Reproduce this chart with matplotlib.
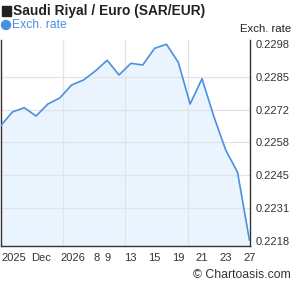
import matplotlib
matplotlib.use("Agg")
import matplotlib.pyplot as plt
from matplotlib.patches import Rectangle, Ellipse
import numpy as np

plt.rcParams['font.family'] = ['Liberation Sans', 'DejaVu Sans']

# exchange rate, SAR/EUR
rates = [0.226485, 0.227058, 0.227234, 0.226894, 0.227385, 0.227631,
         0.228163, 0.228367, 0.228735, 0.229173, 0.228572, 0.229050,
         0.228981, 0.229664, 0.229830, 0.229091, 0.227385, 0.228420,
         0.226874, 0.225503, 0.224591, 0.221821]

xtick_pos = [1.15, 3.4, 6.07, 8.09, 9.0, 10.95, 12.97, 15.0, 17.0, 19.04, 20.98]
xtick_labels = ['2025', 'Dec', '2026', '8', '9', '13', '15', '19', '21', '23', '27']

ytick_vals = [0.22178, 0.223123, 0.224467, 0.22581, 0.227153, 0.228497, 0.22984]
ytick_labels = ['0.2218', '0.2231', '0.2245', '0.2258', '0.2272', '0.2285', '0.2298']

line_col = '#4a90e2'
fill_col = '#eaf4fe'
text_col = '#333333'

W, H = 295, 288
fig = plt.figure(figsize=(W / 100, H / 100), dpi=100)
ax = fig.add_axes([0.5 / W, (H - 246) / H, 249.5 / W, 206 / H])

x = np.arange(len(rates))
ax.fill_between(x, rates, 0.2, color=fill_col, lw=0, zorder=1)
ax.plot(x, rates, color=line_col, lw=1.2, zorder=3)

ax.set_xlim(0, 21.05)
ax.set_ylim(0.221575, 0.230004)

for v in ytick_vals[1:-1]:
    ax.axhline(v, color='#e3e3e3', lw=0.9, zorder=2)
for f in [0.25, 0.5, 0.75]:
    ax.axvline(21.05 * f, color='#e3e3e3', lw=0.9, zorder=2)

ax.spines['top'].set_visible(False)
for s in ['left', 'right', 'bottom']:
    ax.spines[s].set_color('#333333')
    ax.spines[s].set_linewidth(1.0)

ax.yaxis.tick_right()
ax.set_yticks(ytick_vals)
ax.set_yticklabels(ytick_labels)
ax.set_xticks(xtick_pos)
ax.set_xticklabels(xtick_labels)
ax.tick_params(axis='both', length=0, labelsize=8, colors=text_col)
ax.tick_params(axis='y', pad=4)
ax.tick_params(axis='x', pad=5)

# title and legend
fig.patches.append(Rectangle((1.5 / W, 1 - 16 / H), 10 / W, 10 / H,
                             transform=fig.transFigure, color='#222222'))
fig.text(13 / W, 1 - 11 / H, 'Saudi Riyal / Euro (SAR/EUR)', fontsize=9.9,
         fontweight='bold', color='#222222', va='center', ha='left')
fig.patches.append(Ellipse((6 / W, 1 - 25 / H), 9 / W, 9 / H,
                           transform=fig.transFigure, color=line_col))
fig.text(12 / W, 1 - 25.5 / H, 'Exch. rate', fontsize=8.7, color=line_col,
         va='center', ha='left')
fig.text(291 / W, 1 - 28.5 / H, 'Exch. rate', fontsize=8.2, color='#222222',
         va='center', ha='right')
fig.text(291 / W, 1 - 275 / H, '© Chartoasis.com', fontsize=8.8, color=text_col,
         va='center', ha='right')

fig.savefig('out.png', dpi=100)
